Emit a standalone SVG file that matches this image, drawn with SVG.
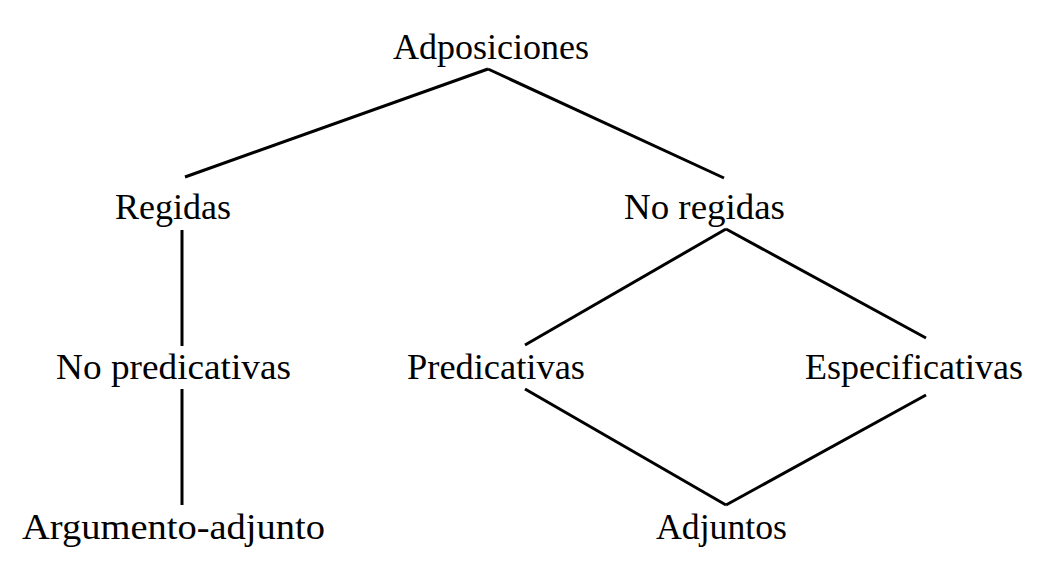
<svg xmlns="http://www.w3.org/2000/svg" width="1038" height="572" viewBox="0 0 1038 572">
<style>
.t{font-family:"Liberation Serif","Times New Roman",serif;font-size:36px;fill:#000;text-anchor:middle}
.c line{stroke:#000;stroke-width:3;stroke-linecap:butt}
</style>
<rect width="1038" height="572" fill="#fff"/>
<g class="c" id="connectors">
<line x1="488" y1="69" x2="185" y2="177"/>
<line x1="488" y1="69" x2="724" y2="178"/>
<line x1="182" y1="230" x2="182" y2="346"/>
<line x1="182" y1="389" x2="182" y2="505"/>
<line x1="726" y1="229" x2="525" y2="345"/>
<line x1="726" y1="229" x2="926" y2="338"/>
<line x1="525" y1="389" x2="726" y2="505"/>
<line x1="926" y1="395" x2="726" y2="505"/>
</g>
<g id="adposiciones"><text class="t" x="491" y="59" textLength="196" lengthAdjust="spacingAndGlyphs">Adposiciones</text></g>
<g id="regidas"><text class="t" x="173" y="219" textLength="116" lengthAdjust="spacingAndGlyphs">Regidas</text></g>
<g id="no-regidas"><text class="t" x="704.5" y="219" textLength="161" lengthAdjust="spacingAndGlyphs">No regidas</text></g>
<g id="no-predicativas"><text class="t" x="173.5" y="379" textLength="235" lengthAdjust="spacingAndGlyphs">No predicativas</text></g>
<g id="predicativas"><text class="t" x="496" y="379" textLength="178" lengthAdjust="spacingAndGlyphs">Predicativas</text></g>
<g id="especificativas"><text class="t" x="914" y="379" textLength="218" lengthAdjust="spacingAndGlyphs">Especificativas</text></g>
<g id="argumento-adjunto"><text class="t" x="173.5" y="539" textLength="303" lengthAdjust="spacingAndGlyphs">Argumento-adjunto</text></g>
<g id="adjuntos"><text class="t" x="721.5" y="539" textLength="131" lengthAdjust="spacingAndGlyphs">Adjuntos</text></g>
</svg>
